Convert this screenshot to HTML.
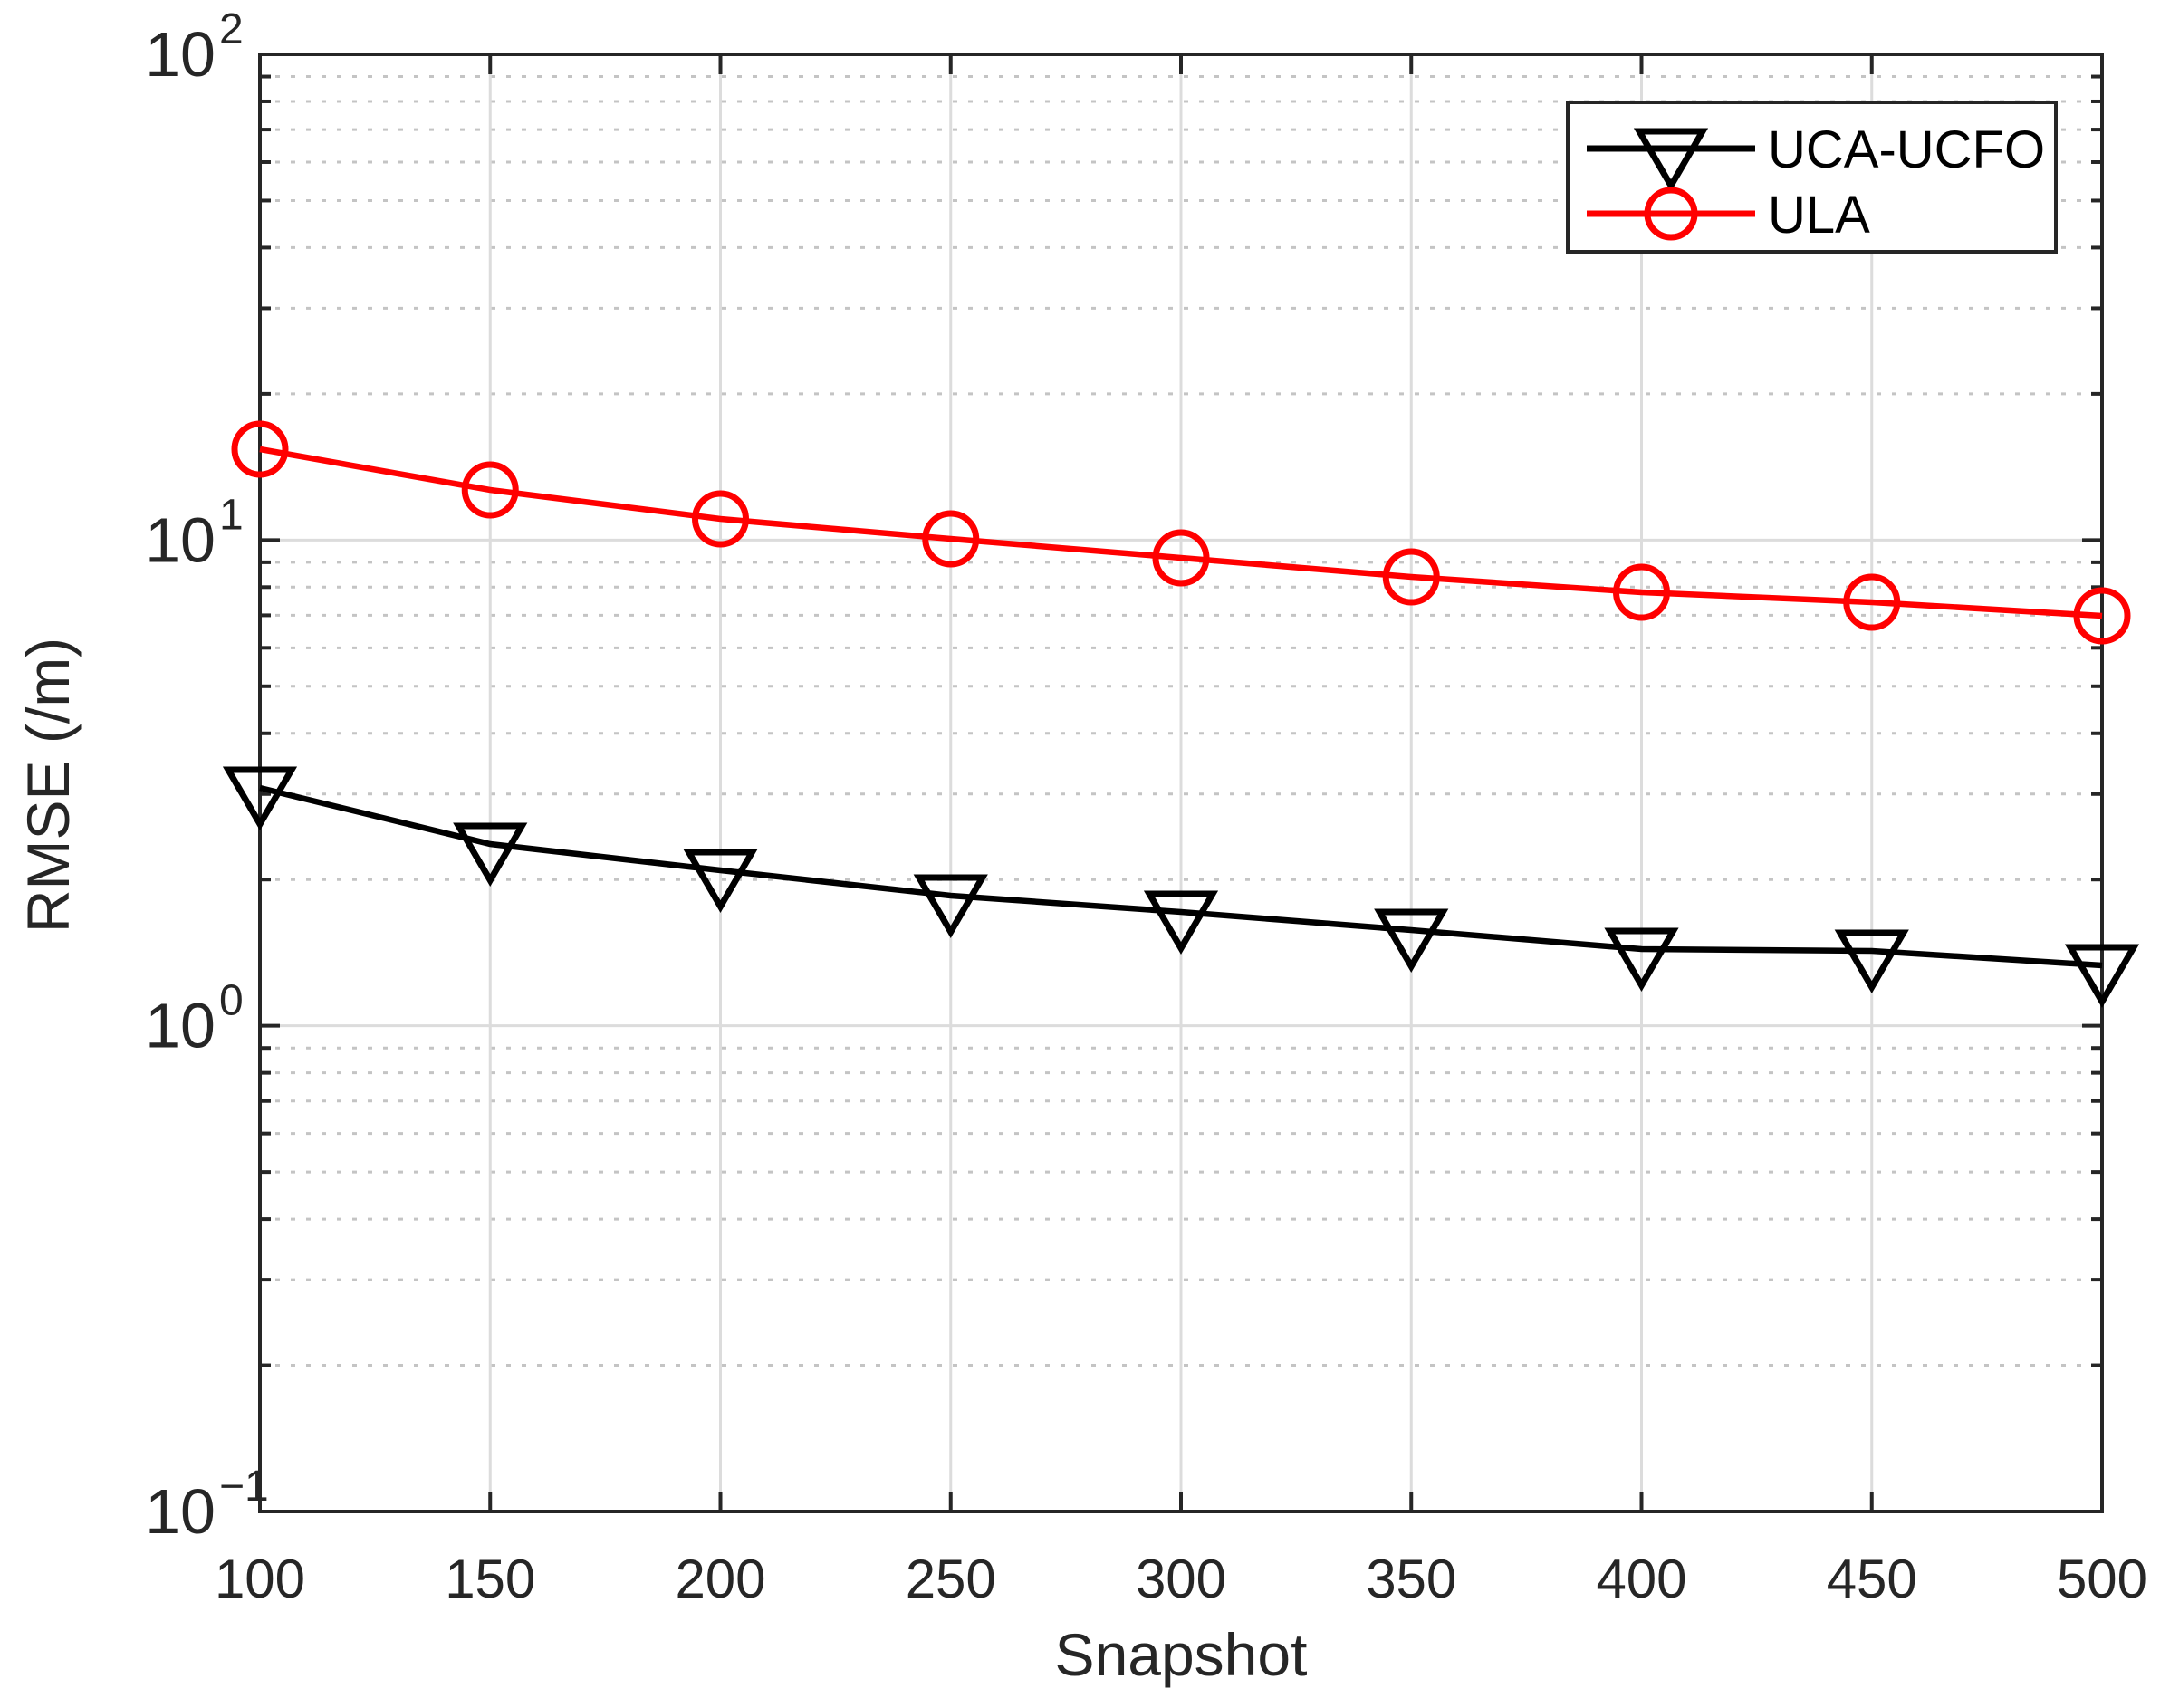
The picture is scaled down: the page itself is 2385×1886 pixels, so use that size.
<!DOCTYPE html>
<html><head><meta charset="utf-8"><style>
html,body{margin:0;padding:0;background:#fff;}
svg{display:block;font-family:"Liberation Sans",Arial,sans-serif;}
</style></head><body>
<svg width="2385" height="1886" viewBox="0 0 2385 1886" xmlns="http://www.w3.org/2000/svg">
<rect width="2385" height="1886" fill="#fff"/>
<g id="dyn"></g>
<script>
(function(){
var L=287,R=2321,T=60,B=1669,D=(B-T)/3;
var ns="http://www.w3.org/2000/svg";
var g=document.getElementById("dyn");
function el(n,a,p){var e=document.createElementNS(ns,n);for(var k in a)e.setAttribute(k,a[k]);(p||g).appendChild(e);return e;}
function yv(v){return B-(Math.log10(v)+1)*D;}
for(var d=-1;d<2;d++){for(var m=2;m<=9;m++){var y=yv(m*Math.pow(10,d));
el("line",{x1:L,x2:R,y1:y,y2:y,stroke:"#c4c4c4","stroke-width":3,"stroke-dasharray":"5,12"});
el("line",{x1:L,x2:L+12,y1:y,y2:y,stroke:"#262626","stroke-width":4});
el("line",{x1:R,x2:R-12,y1:y,y2:y,stroke:"#262626","stroke-width":4});}}
for(var i=0;i<9;i++){var x=L+i*(R-L)/8;
el("line",{x1:x,x2:x,y1:T,y2:B,stroke:"#dcdcdc","stroke-width":3});
el("line",{x1:x,x2:x,y1:B,y2:B-22,stroke:"#262626","stroke-width":4});
el("line",{x1:x,x2:x,y1:T,y2:T+22,stroke:"#262626","stroke-width":4});
var t=el("text",{x:x,y:1764,"font-size":60,"text-anchor":"middle",fill:"#262626"});t.textContent=String(100+50*i);}
for(var d=0;d<4;d++){var y=B-d*D;
el("line",{x1:L,x2:R,y1:y,y2:y,stroke:"#dcdcdc","stroke-width":3});
el("line",{x1:L,x2:L+22,y1:y,y2:y,stroke:"#262626","stroke-width":4});
el("line",{x1:R,x2:R-22,y1:y,y2:y,stroke:"#262626","stroke-width":4});
var t=el("text",{x:238,y:y+24,"font-size":70,"text-anchor":"end",fill:"#262626"});t.textContent="10";
var s=el("text",{x:242,y:y-12,"font-size":48,fill:"#262626"});s.textContent=(d==0?"\u22121":String(d-1));}
el("rect",{x:L,y:T,width:R-L,height:B-T,fill:"none",stroke:"#262626","stroke-width":4});
var xs=[];for(var i=0;i<9;i++)xs.push(L+i*(R-L)/8);
var ula=[496,541,573,595,616,637,654,665,680];
var uca=[870,932,961,989,1007,1027,1048,1050,1066];
function pl(ys,c){var p="";for(var i=0;i<9;i++)p+=xs[i]+","+ys[i]+" ";el("polyline",{points:p,fill:"none",stroke:c,"stroke-width":6.5});}
pl(ula,"#ff0000");pl(uca,"#000");
for(var i=0;i<9;i++){el("circle",{cx:xs[i],cy:ula[i],r:28,fill:"none",stroke:"#ff0000","stroke-width":7});
var x=xs[i],y=uca[i];el("polygon",{points:(x-35)+","+(y-20)+" "+(x+35)+","+(y-20)+" "+x+","+(y+40),fill:"none",stroke:"#000","stroke-width":7});}
el("rect",{x:1731,y:113,width:539,height:165,fill:"#fff",stroke:"#262626","stroke-width":4});
el("line",{x1:1752,x2:1938,y1:164,y2:164,stroke:"#000","stroke-width":7});
el("polygon",{points:"1810,145 1880,145 1845,205",fill:"none",stroke:"#000","stroke-width":7});
el("line",{x1:1752,x2:1938,y1:236,y2:236,stroke:"#ff0000","stroke-width":7});
el("circle",{cx:1845,cy:236,r:26,fill:"none",stroke:"#ff0000","stroke-width":7});
var t=el("text",{x:1952,y:185,"font-size":58,fill:"#000"});t.textContent="UCA-UCFO";
t=el("text",{x:1952,y:257,"font-size":58,fill:"#000"});t.textContent="ULA";
})();
</script>
<text x="1304" y="1850" font-size="66" text-anchor="middle" fill="#262626">Snapshot</text>
<text transform="translate(76,867) rotate(-90)" font-size="66" text-anchor="middle" fill="#262626">RMSE (/m)</text>
</svg>
</body></html>
